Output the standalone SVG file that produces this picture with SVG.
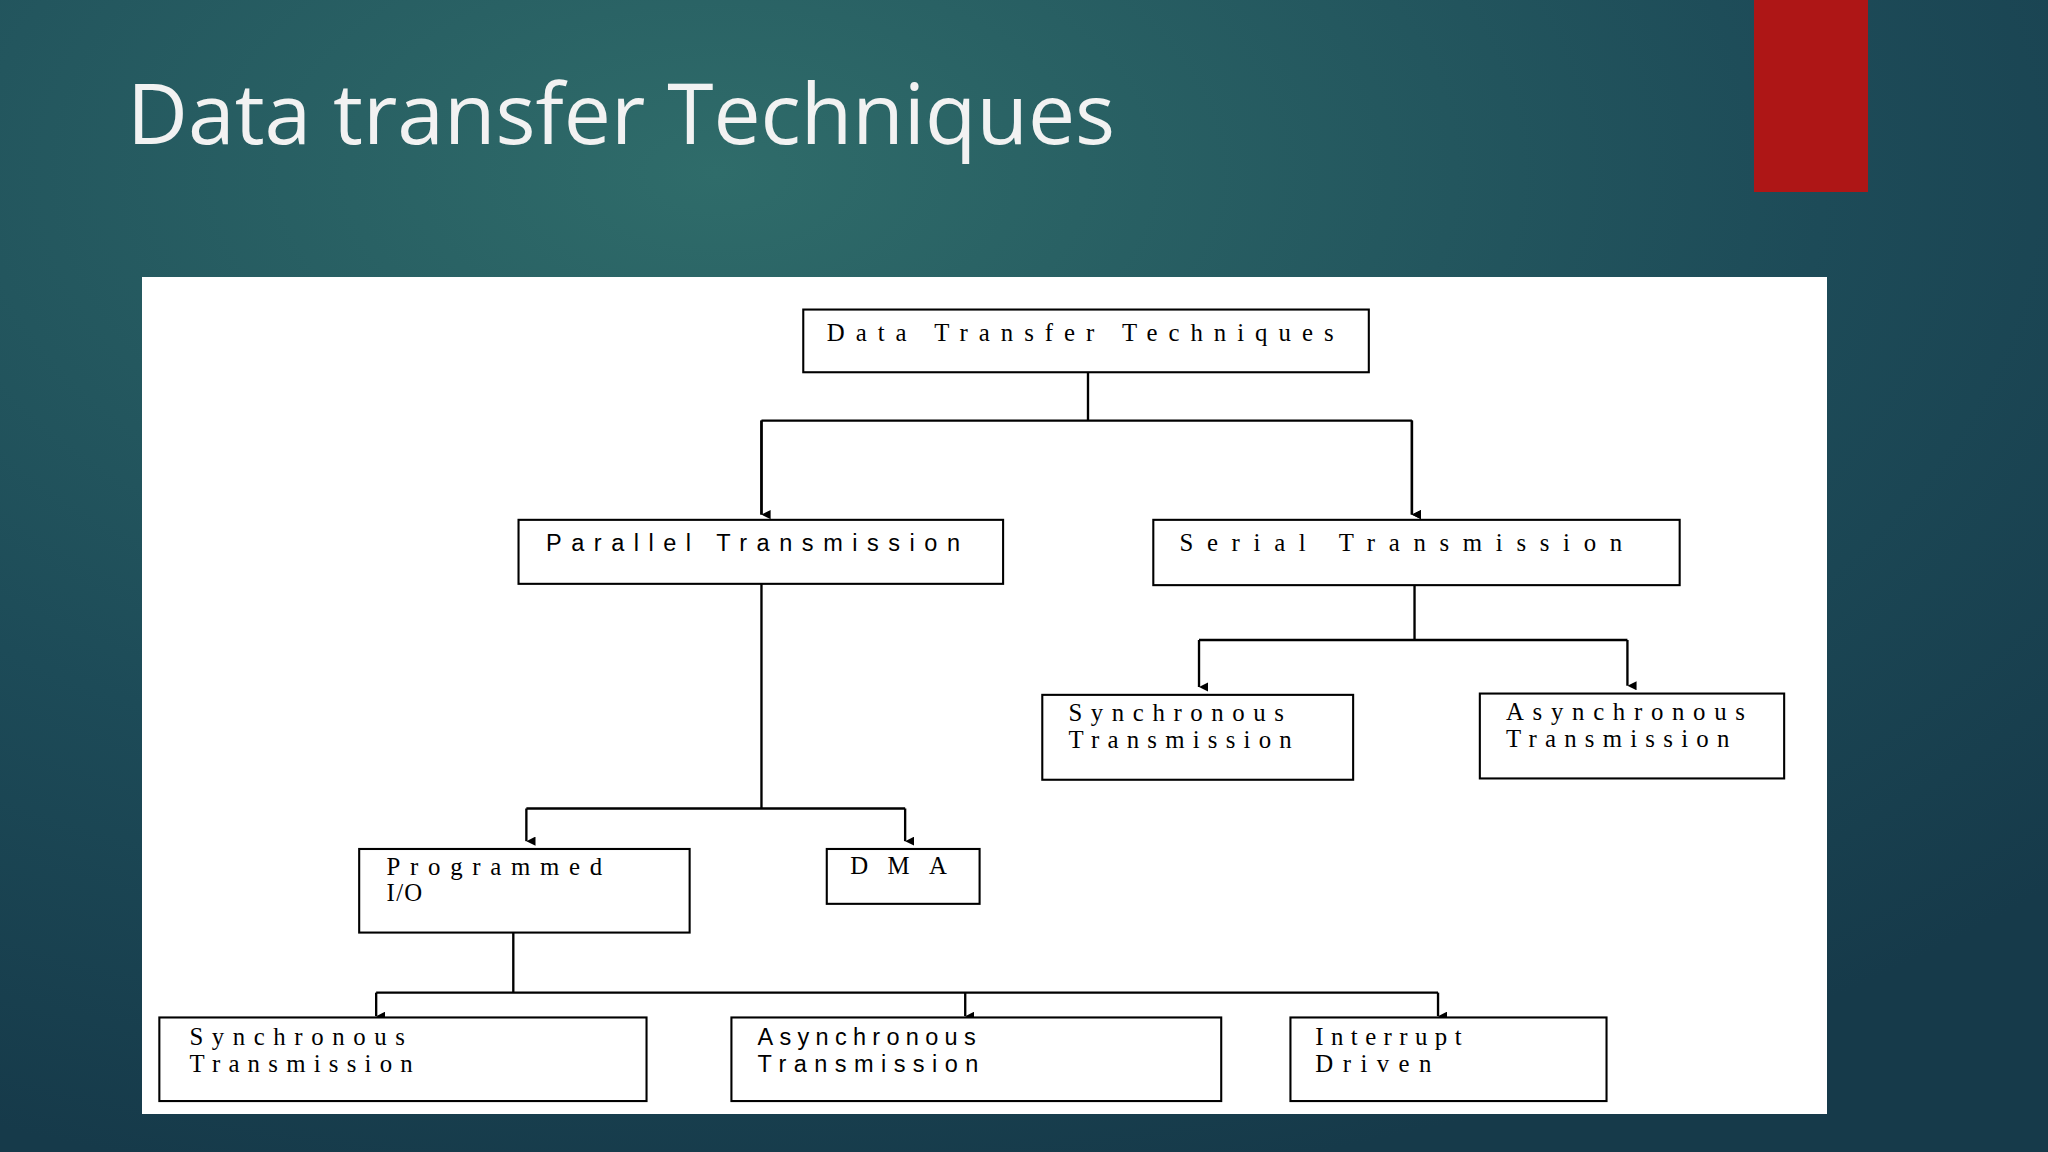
<svg xmlns="http://www.w3.org/2000/svg" width="2048" height="1152" viewBox="0 0 2048 1152">
<defs>
<radialGradient id="bg" cx="0.35" cy="0.15" r="0.9">
<stop offset="0" stop-color="#2f6c6a"/>
<stop offset="0.6" stop-color="#1d4b58"/>
<stop offset="1" stop-color="#163a4a"/>
</radialGradient>
<marker id="ah" viewBox="0 0 10 10" refX="5" refY="10" markerWidth="7" markerHeight="7" markerUnits="userSpaceOnUse" orient="auto-start-reverse">
<path d="M0,0 L10,0 L5,10 Z" fill="#000"/>
</marker>
<style>
.b{fill:#fff;stroke:#000;stroke-width:1.6}
.c{fill:none;stroke:#000;stroke-width:1.8}
.s{font-family:"Liberation Serif",serif;font-size:19px;fill:#000;letter-spacing:1px}
.a{font-family:"Liberation Sans",sans-serif;font-size:18px;fill:#000;letter-spacing:1px}
</style>
</defs>
<rect width="2048" height="1152" fill="url(#bg)"/>
<rect x="1754" y="0" width="114" height="192" fill="#ae1616"/>
<text x="127" y="144" font-family="Open Sans, Noto Sans, sans-serif" font-size="84" fill="#f2f2f2">Data transfer Techniques</text>
<rect x="142" y="277" width="1685" height="837" fill="#fff"/>
<g transform="scale(1.30612)">
<g id="connectors">
<path class="c" d="M833,285V322M583,322H1081M583,322V394M1081,322V394" marker-end="url(#ah)"/>
<path class="c" d="M583,322V394" marker-end="url(#ah)"/>
<path class="c" d="M1081,322V394" marker-end="url(#ah)"/>
<path class="c" d="M1083,448V490H918M1083,490H1246"/>
<path class="c" d="M918,490V526" marker-end="url(#ah)"/>
<path class="c" d="M1246,490V525" marker-end="url(#ah)"/>
<path class="c" d="M583,447V619H403M583,619H693"/>
<path class="c" d="M403,619V644" marker-end="url(#ah)"/>
<path class="c" d="M693,619V644" marker-end="url(#ah)"/>
<path class="c" d="M393,714V760H288M393,760H1101"/>
<path class="c" d="M288,760V778" marker-end="url(#ah)"/>
<path class="c" d="M739,760V778" marker-end="url(#ah)"/>
<path class="c" d="M1101,760V778" marker-end="url(#ah)"/>
</g>
<g id="n-top"><rect class="b" x="615" y="237" width="433" height="48"/><text class="s" x="633" y="261" font-size="21" textLength="389">Data Transfer Techniques</text></g>
<g id="n-parallel"><rect class="b" x="397" y="398" width="371" height="49"/><text class="a" x="418" y="422" textLength="318">Parallel Transmission</text></g>
<g id="n-serial"><rect class="b" x="883" y="398" width="403" height="50"/><text class="s" x="903" y="422" font-size="23" textLength="340">Serial Transmission</text></g>
<g id="n-ssync"><rect class="b" x="798" y="532" width="238" height="65"/><text class="s" x="818" y="552" textLength="166">Synchronous</text><text class="s" x="818" y="573" textLength="172">Transmission</text></g>
<g id="n-sasync"><rect class="b" x="1133" y="531" width="233" height="65"/><text class="s" x="1153" y="551" textLength="184">Asynchronous</text><text class="s" x="1153" y="572" textLength="172">Transmission</text></g>
<g id="n-prog"><rect class="b" x="275" y="650" width="253" height="64"/><text class="s" x="296" y="670" textLength="166">Programmed</text><text class="s" x="296" y="690">I/O</text></g>
<g id="n-dma"><rect class="b" x="633" y="650" width="117" height="42"/><text class="s" x="651" y="669" textLength="75">DMA</text></g>
<g id="n-bsync"><rect class="b" x="122" y="779" width="373" height="64"/><text class="s" x="145" y="800" textLength="166">Synchronous</text><text class="s" x="145" y="821" textLength="172">Transmission</text></g>
<g id="n-basync"><rect class="b" x="560" y="779" width="375" height="64"/><text class="a" x="580" y="800" textLength="168">Asynchronous</text><text class="a" x="580" y="821" textLength="170">Transmission</text></g>
<g id="n-int"><rect class="b" x="988" y="779" width="242" height="64"/><text class="s" x="1007" y="800" textLength="113">Interrupt</text><text class="s" x="1007" y="821" textLength="90">Driven</text></g>
</g>
</svg>
